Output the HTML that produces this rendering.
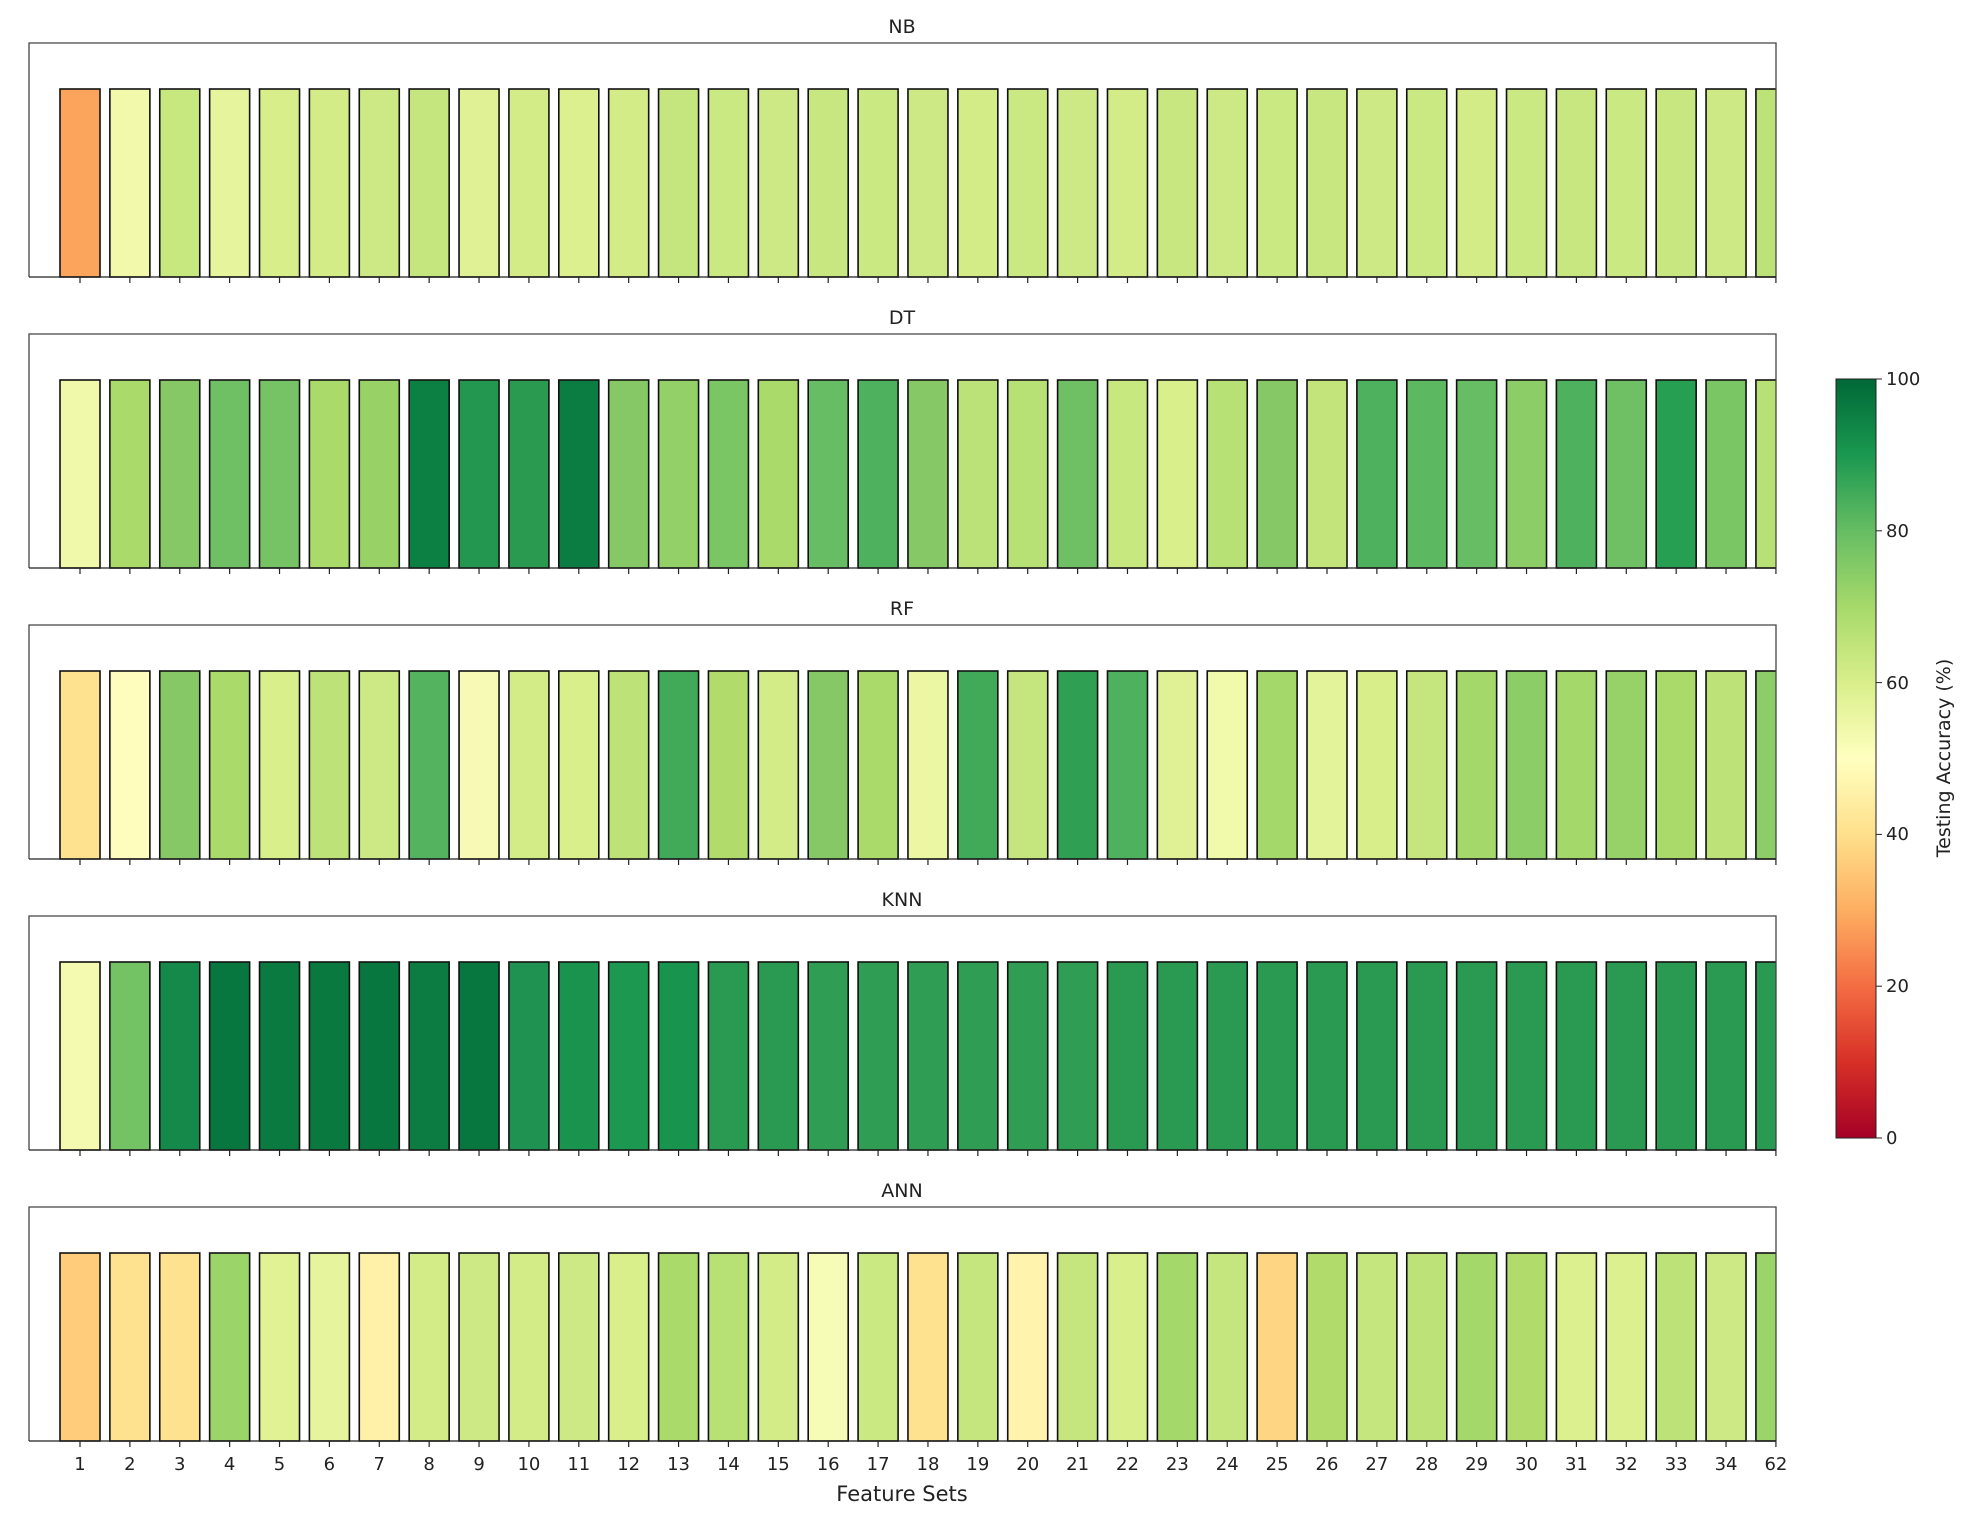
<!DOCTYPE html>
<html><head><meta charset="utf-8"><style>
html,body{margin:0;padding:0;background:#fff;}
svg{display:block;font-family:"DejaVu Sans","Liberation Sans",sans-serif;}
</style></head><body>
<svg id="s" width="1985" height="1516" viewBox="0 0 1985 1516" xmlns="http://www.w3.org/2000/svg">
<defs>
<linearGradient id="cb" x1="0" y1="1" x2="0" y2="0">
<stop offset="0" stop-color="#a50026"/><stop offset="0.1" stop-color="#d73027"/><stop offset="0.2" stop-color="#f46d43"/><stop offset="0.3" stop-color="#fdae61"/><stop offset="0.4" stop-color="#fee08b"/><stop offset="0.5" stop-color="#ffffbf"/><stop offset="0.6" stop-color="#d9ef8b"/><stop offset="0.7" stop-color="#a6d96a"/><stop offset="0.8" stop-color="#66bd63"/><stop offset="0.9" stop-color="#1a9850"/><stop offset="1" stop-color="#006837"/>
</linearGradient>
<clipPath id="ax"><rect x="29" y="0" width="1747" height="1516"/></clipPath>
</defs>
<g id="g"></g>
<rect x="1836" y="379" width="40" height="759" fill="url(#cb)" stroke="#222" stroke-width="1"/>
<g font-size="18" fill="#222">
<line x1="1876" y1="1138" x2="1882" y2="1138" stroke="#222"/><text x="1886" y="1144">0</text>
<line x1="1876" y1="986.2" x2="1882" y2="986.2" stroke="#222"/><text x="1886" y="992">20</text>
<line x1="1876" y1="834.4" x2="1882" y2="834.4" stroke="#222"/><text x="1886" y="840">40</text>
<line x1="1876" y1="682.6" x2="1882" y2="682.6" stroke="#222"/><text x="1886" y="689">60</text>
<line x1="1876" y1="530.8" x2="1882" y2="530.8" stroke="#222"/><text x="1886" y="537">80</text>
<line x1="1876" y1="379" x2="1882" y2="379" stroke="#222"/><text x="1886" y="385">100</text>
</g>
<text x="1950" y="758" font-size="19" fill="#222" text-anchor="middle" transform="rotate(-90 1950 758)">Testing Accuracy (%)</text>
<text x="902" y="1501" font-size="21" fill="#222" text-anchor="middle">Feature Sets</text>
</svg>
<script>
var C={
NB:["#fba55c","#f2f9ab","#c7e77f","#e6f49d","#d7ee8a","#d3ec87","#cde985","#c5e67e","#dff194","#d3ec87","#dcf08f","#d3ec87","#c5e67e","#cbe982","#cde985","#c8e780","#cbe982","#cde985","#d3ec87","#cbe982","#cde985","#d3ec87","#c8e780","#cde985","#cbe982","#c8e780","#cde985","#cbe982","#d3ec87","#cbe982","#c8e780","#cbe982","#c8e780","#cde985","#bde278"],
DT:["#f0f8aa","#a9da6a","#86c865","#6fc064","#76c365","#a9da6a","#98d266","#0c7f43","#23964f","#2b9a51","#0b7d42","#86c865","#93d068","#7ac665","#a9da6a","#66bd63","#4eb15d","#86c865","#bbe278","#b7e075","#6fc064","#c7e77f","#d9ef8b","#b7e075","#86c865","#c2e47b","#4eb15d","#5db961","#66bd63","#8ccd67","#4eb15d","#6fc064","#279f53","#7ac665","#b7e075"],
RF:["#fee290","#fefdbd","#86c865","#a9da6a","#d9ef8b","#bde278","#cde985","#53b35e","#f6fab4","#d3ec87","#d9ef8b","#bde278","#40aa59","#b1dc6c","#d3ec87","#86c865","#a9da6a","#ebf7a3","#40aa59","#c5e67e","#2e9f53","#4eb15d","#dff194","#f1f9ab","#a5d86a","#e3f399","#d7ee8a","#c5e67e","#a5d86a","#8ccd67","#a5d86a","#96d268","#a9da6a","#bde278","#8ccd67"],
KNN:["#f4fab0","#73c264","#15894a","#08773f","#0a7a40","#097940","#08773f","#0c7c42","#08773f","#1f9150","#1a934f","#1c9850","#18944f","#2a9a52","#2a9a52","#2f9e54","#2f9e54","#2f9e54","#2f9e54","#2f9e54","#2f9e54","#2a9a52","#2a9a52","#2a9a52","#2a9a52","#2a9a52","#2a9a52","#2a9a52","#2a9a52","#2a9a52","#2a9a52","#2a9a52","#2a9a52","#2a9a52","#2a9a52"],
ANN:["#fecc7a","#fee290","#fee290","#9bd468","#e0f294","#e6f59d","#fff1a8","#d3ec87","#cde985","#d3ec87","#cde985","#d9ef8b","#a9da6a","#b7e075","#d3ec87","#f6fbb5","#cbe982","#fee290","#c5e67e","#fff3ad","#c5e67e","#d9ef8b","#a5d86a","#c5e67e","#fed683","#b1dc6c","#c5e67e","#bde278","#a5d86a","#b1dc6c","#dcf08f","#dcf08f","#bde278","#cde985","#9bd468"]};
var names=["NB","DT","RF","KNN","ANN"],labels=[];
for(var i=1;i<=34;i++)labels.push(i);labels.push(62);
var h="",P=49.88,W=40;
names.forEach(function(n,k){
 var top=43+k*291,bot=top+234,bt=top+46;
 h+='<text x="902" y="'+(top-10)+'" font-size="19" fill="#222" text-anchor="middle">'+n+'</text>';
 h+='<g clip-path="url(#ax)">';
 C[n].forEach(function(c,i){var cx=80+i*P;
  h+='<rect x="'+(cx-W/2)+'" y="'+bt+'" width="'+W+'" height="'+(bot-bt)+'" fill="'+c+'" stroke="#111" stroke-width="1.6"/>';});
 h+='</g>';
 h+='<path d="M29 '+bot+' V'+top+' H1776 V'+bot+'" fill="none" stroke="#444" stroke-width="1.3"/>';
 h+='<line x1="29" y1="'+bot+'" x2="1776" y2="'+bot+'" stroke="#222" stroke-width="1.3"/>';
 for(var i=0;i<35;i++){var cx=80+i*P;h+='<line x1="'+cx+'" y1="'+bot+'" x2="'+cx+'" y2="'+(bot+6)+'" stroke="#222" stroke-width="1.2"/>';}
});
for(var i=0;i<35;i++){h+='<text x="'+(80+i*P)+'" y="1470" font-size="18" fill="#222" text-anchor="middle">'+labels[i]+'</text>';}
document.getElementById("g").innerHTML=h;
</script>
</body></html>
